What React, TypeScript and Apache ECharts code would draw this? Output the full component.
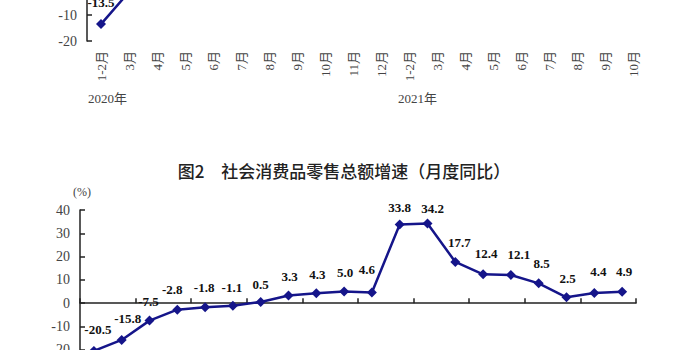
import React, { useEffect, useRef } from "react";
import * as echarts from "echarts";

// ---- data ----
const categories = [
  "1-2月", "3月", "4月", "5月", "6月", "7月", "8月", "9月", "10月", "11月", "12月",
  "1-2月", "3月", "4月", "5月", "6月", "7月", "8月", "9月", "10月",
];
const yearLabels = ["2020年", "2021年"];
// Figure 1 (only its first point is visible in the crop)
const fig1Values = [-13.5, -1.1, 3.9, 4.4, 4.8, 4.8, 5.6, 6.9, 6.9, 7.0, 7.3, 35.1, 14.1, 9.8, 8.8, 8.3, 6.4, 5.3, 3.1, 3.5];
// Figure 2: retail sales growth
const fig2Values = [-20.5, -15.8, -7.5, -2.8, -1.8, -1.1, 0.5, 3.3, 4.3, 5.0, 4.6, 33.8, 34.2, 17.7, 12.4, 12.1, 8.5, 2.5, 4.4, 4.9];
const fig2Title = "图2　社会消费品零售总额增速（月度同比）";
const unitLabel = "(%)";

// ---- styles ----
const LINE = "#15158a";
const AXIS = "#222";
const TXT = "#444";
const SERIF = "'Liberation Serif', 'Times New Roman', 'Noto Sans CJK SC', serif";
const SANS = "'Noto Sans CJK SC', 'Noto Sans', sans-serif";
const labelOffsets: [number, number][] = [
  [4, -2], [6, -2], [-1, 0], [-5, -1], [-1, 0], [-1, 1], [0, 2], [1, 1], [1, 1], [1, 0],
  [-5, -3], [0, 3], [5, 4], [4, 0], [3, -1], [8, -1], [3, 0], [1, 1], [4, -2], [2, -1],
];

export default function App() {
  const ref = useRef<HTMLDivElement>(null);
  useEffect(() => {
    if (!ref.current) return;
    const chart = echarts.init(ref.current, undefined, { renderer: "svg" });
    const axisLine = { show: true, lineStyle: { color: AXIS, width: 1.5 } };
    const tick = { show: true, inside: true, length: 5, lineStyle: { color: AXIS, width: 1.5 } };
    chart.setOption({
      animation: false,
      backgroundColor: "#fff",
      grid: [
        { left: 87, width: 561, top: -115, height: 156, outerBoundsMode: "none", containLabel: false },
        { left: 80, width: 556, top: 210, height: 163, outerBoundsMode: "none", containLabel: false },
      ],
      xAxis: [
        {
          gridIndex: 0,
          type: "category",
          data: categories,
          boundaryGap: true,
          axisLine,
          axisTick: tick,
          axisLabel: { rotate: 90, margin: 10, fontSize: 13, color: TXT, fontFamily: SERIF, interval: 0 },
        },
        {
          gridIndex: 1,
          type: "category",
          data: categories,
          boundaryGap: true,
          axisLine,
          axisTick: tick,
          axisLabel: { show: false },
        },
      ],
      yAxis: [
        {
          gridIndex: 0,
          type: "value",
          min: -20,
          max: 40,
          interval: 10,
          axisLine,
          axisTick: tick,
          splitLine: { show: false },
          axisLabel: {
            margin: 10,
            fontSize: 14,
            color: TXT,
            fontFamily: SERIF,
            formatter: (v: number) => (v <= -10 ? String(v) : ""),
          },
        },
        {
          gridIndex: 1,
          type: "value",
          min: -30,
          max: 40,
          interval: 10,
          axisLine,
          axisTick: tick,
          splitLine: { show: false },
          axisLabel: {
            margin: 10,
            fontSize: 14,
            color: TXT,
            fontFamily: SERIF,
            formatter: (v: number) => (v >= -20 ? String(v) : ""),
          },
        },
      ],
      series: [
        {
          type: "line",
          xAxisIndex: 0,
          yAxisIndex: 0,
          data: fig1Values.map((v, i) => ({
            value: v,
            label: { show: i === 0 },
          })),
          symbol: "diamond",
          symbolSize: 10,
          lineStyle: { color: LINE, width: 2.5 },
          itemStyle: { color: LINE },
          label: {
            position: "top",
            distance: 10,
            fontSize: 13,
            fontWeight: "bold",
            fontFamily: SERIF,
            color: "#111",
          },
        },
        {
          type: "line",
          xAxisIndex: 1,
          yAxisIndex: 1,
          data: fig2Values.map((v, i) => ({
            value: v,
            label: { offset: labelOffsets[i] },
          })),
          symbol: "diamond",
          symbolSize: 10,
          lineStyle: { color: LINE, width: 2.5 },
          itemStyle: { color: LINE },
          label: {
            show: true,
            position: "top",
            distance: 8,
            fontSize: 13,
            fontWeight: "bold",
            fontFamily: SERIF,
            color: "#111",
            formatter: (p: any) => Number(p.value).toFixed(1),
          },
        },
      ],
      graphic: [
        {
          type: "text",
          left: 88,
          top: 92,
          style: { text: yearLabels[0], fontSize: 13, fill: TXT, fontFamily: SERIF },
        },
        {
          type: "text",
          left: 398,
          top: 92,
          style: { text: yearLabels[1], fontSize: 13, fill: TXT, fontFamily: SERIF },
        },
        {
          type: "text",
          x: 344,
          y: 170,
          style: {
            text: fig2Title,
            fontSize: 17,
            fill: "#222",
            fontFamily: SANS,
            fontWeight: 500,
            textAlign: "center",
            textVerticalAlign: "middle",
          },
        },
        {
          type: "text",
          x: 82,
          y: 192,
          style: {
            text: unitLabel,
            fontSize: 12,
            fill: TXT,
            fontFamily: SERIF,
            textAlign: "center",
            textVerticalAlign: "middle",
          },
        },
      ],
    });
    return () => chart.dispose();
  }, []);
  return (
    <div
      ref={ref}
      style={{ position: "fixed", left: 0, top: 0, width: 700, height: 350, background: "#fff" }}
    />
  );
}
